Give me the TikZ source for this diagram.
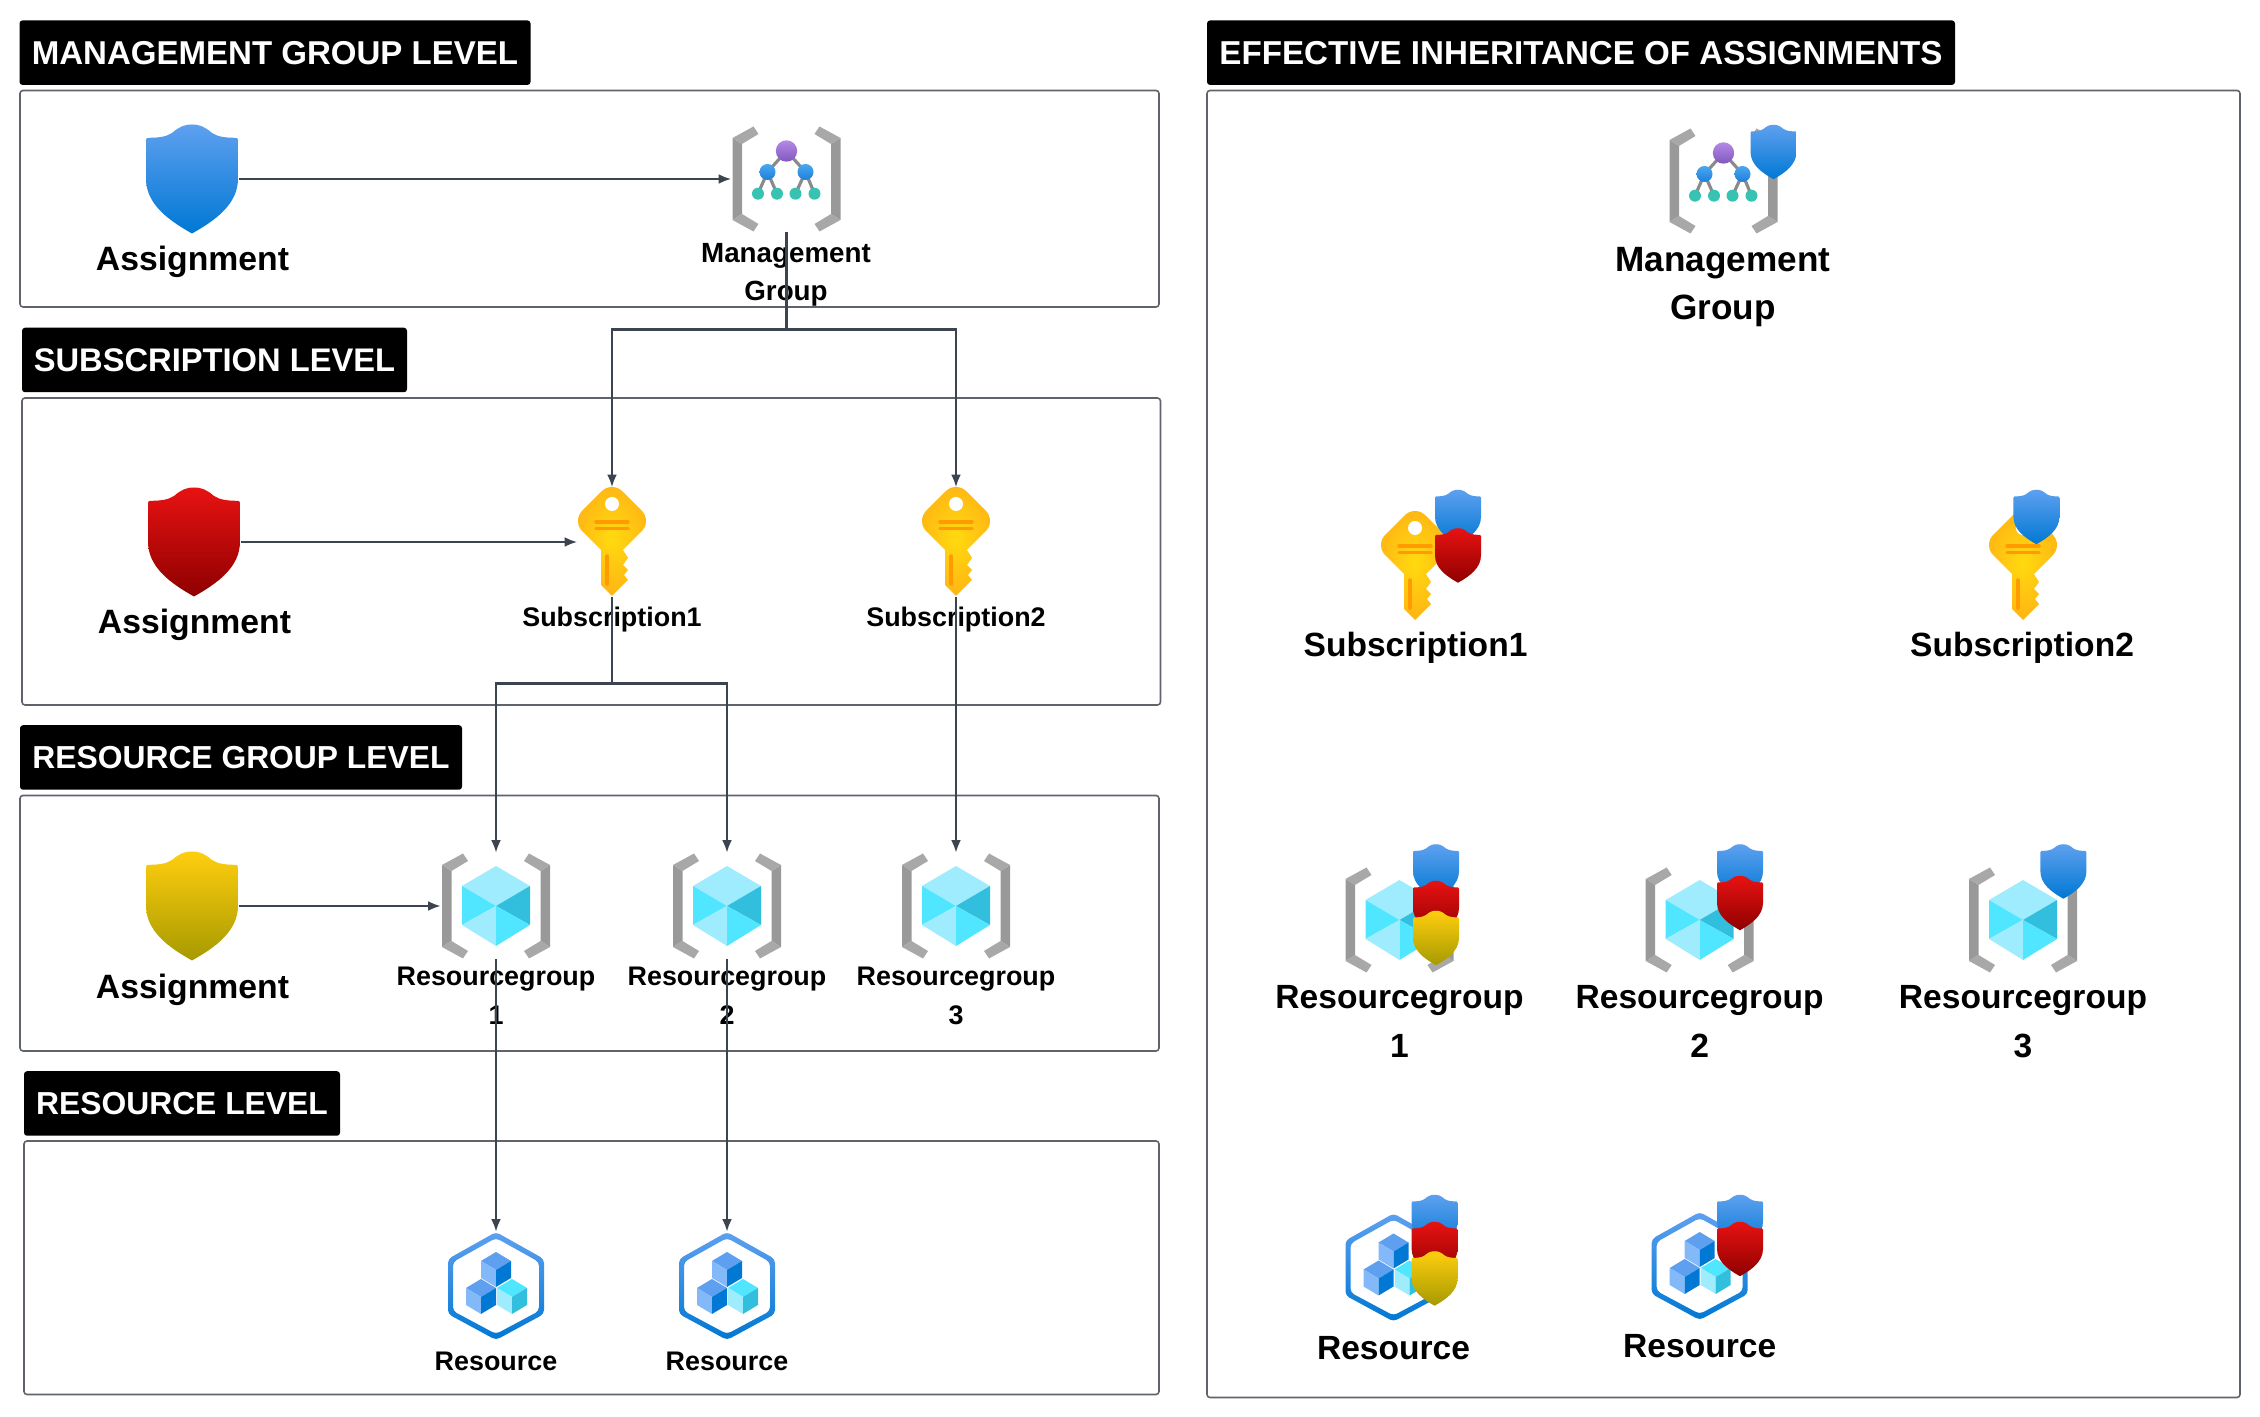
\documentclass[tikz,border=0pt]{standalone}
\usepackage{fontspec}
\setmainfont{Liberation Sans}
\usetikzlibrary{arrows.meta}

\definecolor{lineclr}{HTML}{3C4450}
\definecolor{panelclr}{HTML}{5F646B}
\definecolor{blueA}{HTML}{5EA0EF}
\definecolor{blueB}{HTML}{0078D4}
\definecolor{redA}{HTML}{E81212}
\definecolor{redB}{HTML}{8F0000}
\definecolor{yellowA}{HTML}{FFCE0F}
\definecolor{yellowB}{HTML}{A69A00}
\definecolor{keyin}{HTML}{FFDA0F}
\definecolor{keyout}{HTML}{FFB414}
\definecolor{keyslot}{HTML}{FF9A00}
\definecolor{brackdark}{HTML}{999999}
\definecolor{bracklight}{HTML}{A8A8A8}
\definecolor{cubeA}{HTML}{A0ECFF}
\definecolor{cubeB}{HTML}{50E6FF}
\definecolor{cubeC}{HTML}{32BEDD}
\definecolor{boxA}{HTML}{83B9F9}
\definecolor{treeA}{HTML}{B58AE6}
\definecolor{treeB}{HTML}{8058BE}
\definecolor{treeC}{HTML}{4AA8F0}
\definecolor{treeD}{HTML}{1F7FD8}
\definecolor{treeE}{HTML}{37C2B1}

\tikzset{
    titlebox/.style={fill=black, text=white, rounded corners=0.3mm, inner sep=0pt,
        minimum height=6.45mm, font=\fontsize{#1}{11}\selectfont\bfseries},
    panel/.style={draw=panelclr, line width=0.45pt, rounded corners=0.3mm},
    wire/.style={draw=lineclr, line width=0.65pt},
    arrow/.style={wire, -{Latex[length=3.6pt,width=2.8pt]}},
    smalllabel/.style={align=center, inner sep=0pt, font=\fontsize{7.65}{11}\selectfont\bfseries},
    biglabel/.style={align=center, inner sep=0pt, font=\fontsize{9.55}{13.8}\selectfont\bfseries},
    assignlabel/.style={align=center, inner sep=0pt, font=\fontsize{9.6}{11}\selectfont\bfseries},
    shieldbox/.style={minimum width=9.2mm, minimum height=10.9mm, inner sep=0pt},
    keybox/.style={minimum width=6.8mm, minimum height=10.8mm, inner sep=0pt},
    brackbox/.style={minimum width=10.9mm, minimum height=10.5mm, inner sep=0pt},
    hexbox/.style={minimum width=9.6mm, minimum height=10.7mm, inner sep=0pt},
    inherited/.style={scale=0.5, transform shape},
    pics/shieldicon/.style n args={2}{code={
        \shade[top color=#1, bottom color=#2]
            (0,-54.5) .. controls (-8,-54.5) and (-13,-52) .. (-20,-46)
            .. controls (-26,-42) and (-34,-41.2) .. (-44,-41.2)
            .. controls (-45.5,-41.2) and (-46,-40) .. (-46,-38.5)
            -- (-46,-0.5) .. controls (-46,25) and (-24,41) .. (0,54.5)
            .. controls (24,41) and (46,25) .. (46,-0.5) -- (46,-38.5)
            .. controls (46,-40) and (45.5,-41.2) .. (44,-41.2)
            .. controls (34,-41.2) and (26,-42) .. (20,-46)
            .. controls (13,-52) and (8,-54.5) .. (0,-54.5) -- cycle;
    }},
    pics/blueshield/.style={code={\pic {shieldicon={blueA}{blueB}};}},
    pics/redshield/.style={code={\pic {shieldicon={redA}{redB}};}},
    pics/yellowshield/.style={code={\pic {shieldicon={yellowA}{yellowB}};}},
    pics/bracketicon/.style={code={
        \foreach \sgn in {-1,1} {
            \fill[brackdark] (\sgn*54,-41) -- (\sgn*44.5,-35) -- (\sgn*44.5,35) -- (\sgn*54,41) -- cycle;
            \fill[bracklight] (\sgn*54,-41) -- (\sgn*33,-52.5) -- (\sgn*28,-45) -- (\sgn*44.5,-35) -- cycle;
            \fill[bracklight] (\sgn*54,41) -- (\sgn*33,52.5) -- (\sgn*28,45) -- (\sgn*44.5,35) -- cycle;
        }
    }},
    pics/mgicon/.style={code={
        \pic {bracketicon};
        % Tree
        \draw[brackdark!90!black, line width=0.9pt]
            (-28.5,14.7) -- (-19,-7) -- (-9.5,14.7)
            (9,14.7) -- (19,-7) -- (28,14.7)
            (-19,-7) -- (0,-28) -- (19,-7);
        \shade[top color=treeC, bottom color=treeD] (-19,-7) circle (8);
        \shade[top color=treeC, bottom color=treeD] (19,-7) circle (8);
        \foreach \lx in {-28.5,-9.5,9,28} {
            \fill[treeE] (\lx,14.7) circle (6);
        }
        \shade[top color=treeA, bottom color=treeB] (0,-28) circle (10.7);
    }},
    pics/cubeicon/.style={code={
        \pic {bracketicon};
        \fill[cubeA] (0,-40) -- (34,-20) -- (0,0) -- (-34,-20) -- cycle;
        \fill[cubeB] (-34,-20) -- (0,0) -- (-34,19) -- cycle;
        \fill[cubeC] (34,-20) -- (0,0) -- (34,19) -- cycle;
        \fill[cubeA] (-34,19) -- (0,0) -- (0,40) -- cycle;
        \fill[cubeB] (34,19) -- (0,0) -- (0,40) -- cycle;
    }},
    pics/keyicon/.style={code={
        \shade[inner color=keyin, outer color=keyout]
            (-11,8) [rounded corners=1.45mm] -- (-40,-21) -- (0,-61) -- (40,-21)
            [sharp corners] -- (11,8) -- (16,16) -- (11,23) -- (16,28) -- (12,33)
            -- (16,38) -- (11,43) -- (0,54) -- (-11,43) -- cycle;
        \fill[white] (0,-38) circle (7);
        \draw[keyslot, line width=1pt, line cap=round]
            (-16,-20) -- (16,-20) (-16,-13.3) -- (16,-13.3) (-5,14) -- (-5,42);
    }},
    pics/boxicon/.style n args={3}{code={
        \fill[#1] (0,-18) -- (15,-9) -- (0,0) -- (-15,-9) -- cycle;
        \fill[#2] (-15,-9) -- (0,0) -- (0,17) -- (-15,8) -- cycle;
        \fill[#3] (15,-9) -- (0,0) -- (0,17) -- (15,8) -- cycle;
    }},
    pics/hexicon/.style={code={
        \shade[top color=blueA, bottom color=blueB, even odd rule, rounded corners=0.4mm]
            (0,-54) -- (48,-27) -- (48,28) -- (0,54) -- (-48,28) -- (-48,-27) -- cycle
            (0,-48) -- (43,-24) -- (43,25) -- (0,48) -- (-43,25) -- (-43,-24) -- cycle;
        \pic at (0,-16) {boxicon={blueA}{boxA}{blueB}};
        \pic at (-15,11) {boxicon={blueA}{boxA}{blueB}};
        \pic at (16,11) {boxicon={cubeB}{cubeA}{cubeC}};
    }},
}

\begin{document}
\begin{tikzpicture}[x=0.1mm, y=-0.1mm]
    \useasboundingbox (0,0) rectangle (2260,1417);

    % Titles
    \node[titlebox=9.4, minimum width=51.1mm] (titleMg) at (275,52.7) {MANAGEMENT GROUP LEVEL};
    \node[titlebox=9.3, minimum width=38.5mm] (titleSub) at (214.5,360) {SUBSCRIPTION LEVEL};
    \node[titlebox=9.05, minimum width=44.2mm] (titleRg) at (241,757.5) {RESOURCE GROUP LEVEL};
    \node[titlebox=9.05, minimum width=31.6mm] (titleRes) at (182,1103.5) {RESOURCE LEVEL};
    \node[titlebox=9.43, minimum width=74.8mm] (titleEff) at (1581,52.7) {EFFECTIVE INHERITANCE OF ASSIGNMENTS};

    % Panels
    \draw[panel] (20,90.5) rectangle (1159,307);
    \draw[panel] (22,398) rectangle (1160.5,705);
    \draw[panel] (20,795.5) rectangle (1159,1051);
    \draw[panel] (24,1141) rectangle (1159,1394.5);
    \draw[panel] (1207,90.5) rectangle (2240,1397.5);

    % Management group level
    \node[shieldbox] (shieldMg) at (192,179) {};
    \pic at (shieldMg) {blueshield};
    \node[brackbox] (mg) at (786.5,179) {};
    \pic at (mg) {mgicon};
    \node[assignlabel] (assignMg) at (192.5,262) {Assignment};
    \node[smalllabel, font=\fontsize{7.9}{11}\selectfont\bfseries] (mgLabel) at (786,275) {Management\\Group};

    % Subscription level
    \node[shieldbox] (shieldSub) at (194,542) {};
    \pic at (shieldSub) {redshield};
    \node[keybox] (key1) at (612,542) {};
    \pic at (key1) {keyicon};
    \node[keybox] (key2) at (956,542) {};
    \pic at (key2) {keyicon};
    \node[assignlabel] (assignSub) at (194.5,625) {Assignment};
    \node[smalllabel] (key1Label) at (612,620) {Subscription1};
    \node[smalllabel] (key2Label) at (956,620) {Subscription2};

    % Resource group level
    \node[shieldbox] (shieldRg) at (192,906) {};
    \pic at (shieldRg) {yellowshield};
    \node[brackbox] (rg1) at (496,906) {};
    \pic at (rg1) {cubeicon};
    \node[brackbox] (rg2) at (727,906) {};
    \pic at (rg2) {cubeicon};
    \node[brackbox] (rg3) at (956,906) {};
    \pic at (rg3) {cubeicon};
    \node[assignlabel] (assignRg) at (192.5,989.5) {Assignment};
    \node[smalllabel] (rg1Label) at (496,996) {Resourcegroup\\1};
    \node[smalllabel] (rg2Label) at (727,996) {Resourcegroup\\2};
    \node[smalllabel] (rg3Label) at (956,996) {Resourcegroup\\3};

    % Resource level
    \node[hexbox] (res1) at (496,1286) {};
    \pic at (res1) {hexicon};
    \node[hexbox] (res2) at (727,1286) {};
    \pic at (res2) {hexicon};
    \node[smalllabel] (res1Label) at (496,1361.5) {Resource};
    \node[smalllabel] (res2Label) at (727,1361.5) {Resource};

    % Connectors
    \coordinate (mgBus) at (786.5,329.5);
    \coordinate (subBus) at (612,683.5);
    \draw[arrow] (shieldMg.east) -- (mg.west);
    \draw[arrow] (shieldSub.east) -- (key1.west);
    \draw[arrow] (shieldRg.east) -- (rg1.west);
    \draw[arrow] (mg.south) -- (mgBus) -| (key1.north);
    \draw[arrow] (mg.south) -- (mgBus) -| (key2.north);
    \draw[arrow] (key1.south) -- (subBus) -| (rg1.north);
    \draw[arrow] (key1.south) -- (subBus) -| (rg2.north);
    \draw[arrow] (key2.south) -- (rg3.north);
    \draw[arrow] (rg1.south) -- (res1.north);
    \draw[arrow] (rg2.south) -- (res2.north);

    % Effective inheritance
    \pic at (1723.5,181) {mgicon};
    \pic[inherited] at (1773.5,152) {blueshield};
    \node[biglabel, font=\fontsize{10}{13.8}\selectfont\bfseries] (effMg) at (1723,287) {Management\\Group};

    \pic at (1415,566) {keyicon};
    \pic[inherited] at (1458,517) {blueshield};
    \pic[inherited] at (1458,555.5) {redshield};
    \node[biglabel] (effKey1) at (1415.5,648) {Subscription1};

    \pic at (2023,566) {keyicon};
    \pic[inherited] at (2036.4,517) {blueshield};
    \node[biglabel] (effKey2) at (2022,648) {Subscription2};

    \pic at (1399.5,920) {cubeicon};
    \pic[inherited] at (1436,871.5) {blueshield};
    \pic[inherited] at (1436,908) {redshield};
    \pic[inherited] at (1436,938) {yellowshield};
    \node[biglabel] (effRg1) at (1399.5,1021.5) {Resourcegroup\\1};

    \pic at (1699.7,920) {cubeicon};
    \pic[inherited] at (1740,871.5) {blueshield};
    \pic[inherited] at (1740,903) {redshield};
    \node[biglabel] (effRg2) at (1699.7,1021.5) {Resourcegroup\\2};

    \pic at (2023,920) {cubeicon};
    \pic[inherited] at (2063.4,871.5) {blueshield};
    \node[biglabel] (effRg3) at (2023,1021.5) {Resourcegroup\\3};

    \pic at (1393.5,1267.5) {hexicon};
    \pic[inherited] at (1434.6,1222) {blueshield};
    \pic[inherited] at (1434.6,1249) {redshield};
    \pic[inherited] at (1434.6,1278.5) {yellowshield};
    \node[biglabel] (effRes1) at (1393.5,1348) {Resource};

    \pic at (1699.7,1266) {hexicon};
    \pic[inherited] at (1740,1222) {blueshield};
    \pic[inherited] at (1740,1249) {redshield};
    \node[biglabel] (effRes2) at (1699.7,1346) {Resource};
\end{tikzpicture}
\end{document}
